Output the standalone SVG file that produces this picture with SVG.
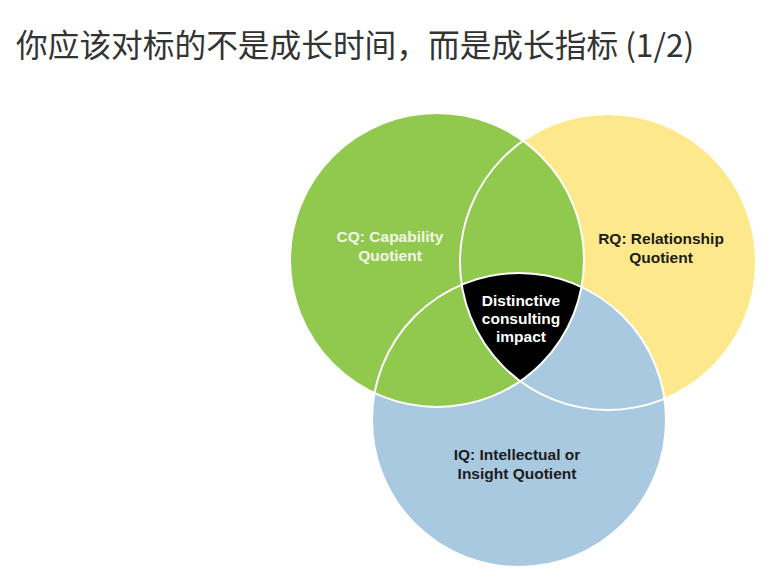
<svg xmlns="http://www.w3.org/2000/svg" width="778" height="578" viewBox="0 0 778 578">
  <style>
    .title { font-family: "Noto Sans CJK SC", "Noto Sans", sans-serif; font-size: 31.7px; fill: #333333; }
    .lbl { font-family: "Liberation Sans", Arial, sans-serif; font-size: 15.5px; font-weight: bold; text-anchor: middle; }
    .dark { fill: #1c1c1c; }
    .light { fill: #f3f6e6; }
    .white { fill: #ffffff; }
    .outline { fill: none; stroke: #ffffff; stroke-width: 2; }
  </style>
  <rect x="0" y="0" width="778" height="578" fill="#ffffff"/>
  <text class="title" x="16" y="57">你应该对标的不是成长时间，而是成长指标 (1/2)</text>

  <g id="rq">
    <circle cx="608" cy="262" r="148" fill="#fde98c"/>
  </g>
  <g id="iq">
    <circle cx="519" cy="420" r="147" fill="#a9c9e0"/>
  </g>
  <g id="cq">
    <circle cx="437" cy="260" r="147" fill="#91c94f"/>
  </g>
  <g id="impact">
    <path d="M 461.7 284.6 A 147 147 0 0 1 581.5 287 A 147 147 0 0 1 520.2 381.2 A 148 148 0 0 1 461.7 284.6 Z" fill="#000000"/>
  </g>
  <g id="outlines">
    <circle class="outline" cx="608" cy="262" r="148"/>
    <circle class="outline" cx="519" cy="420" r="147"/>
    <circle class="outline" cx="437" cy="260" r="147"/>
  </g>
  <g id="labels">
    <text class="lbl light" x="390" y="242">CQ: Capability</text>
    <text class="lbl light" x="390" y="261">Quotient</text>
    <text class="lbl dark" x="661" y="244">RQ: Relationship</text>
    <text class="lbl dark" x="661" y="263">Quotient</text>
    <text class="lbl white" x="521" y="306">Distinctive</text>
    <text class="lbl white" x="521" y="324">consulting</text>
    <text class="lbl white" x="521" y="342">impact</text>
    <text class="lbl dark" x="517" y="460">IQ: Intellectual or</text>
    <text class="lbl dark" x="517" y="479">Insight Quotient</text>
  </g>
</svg>
